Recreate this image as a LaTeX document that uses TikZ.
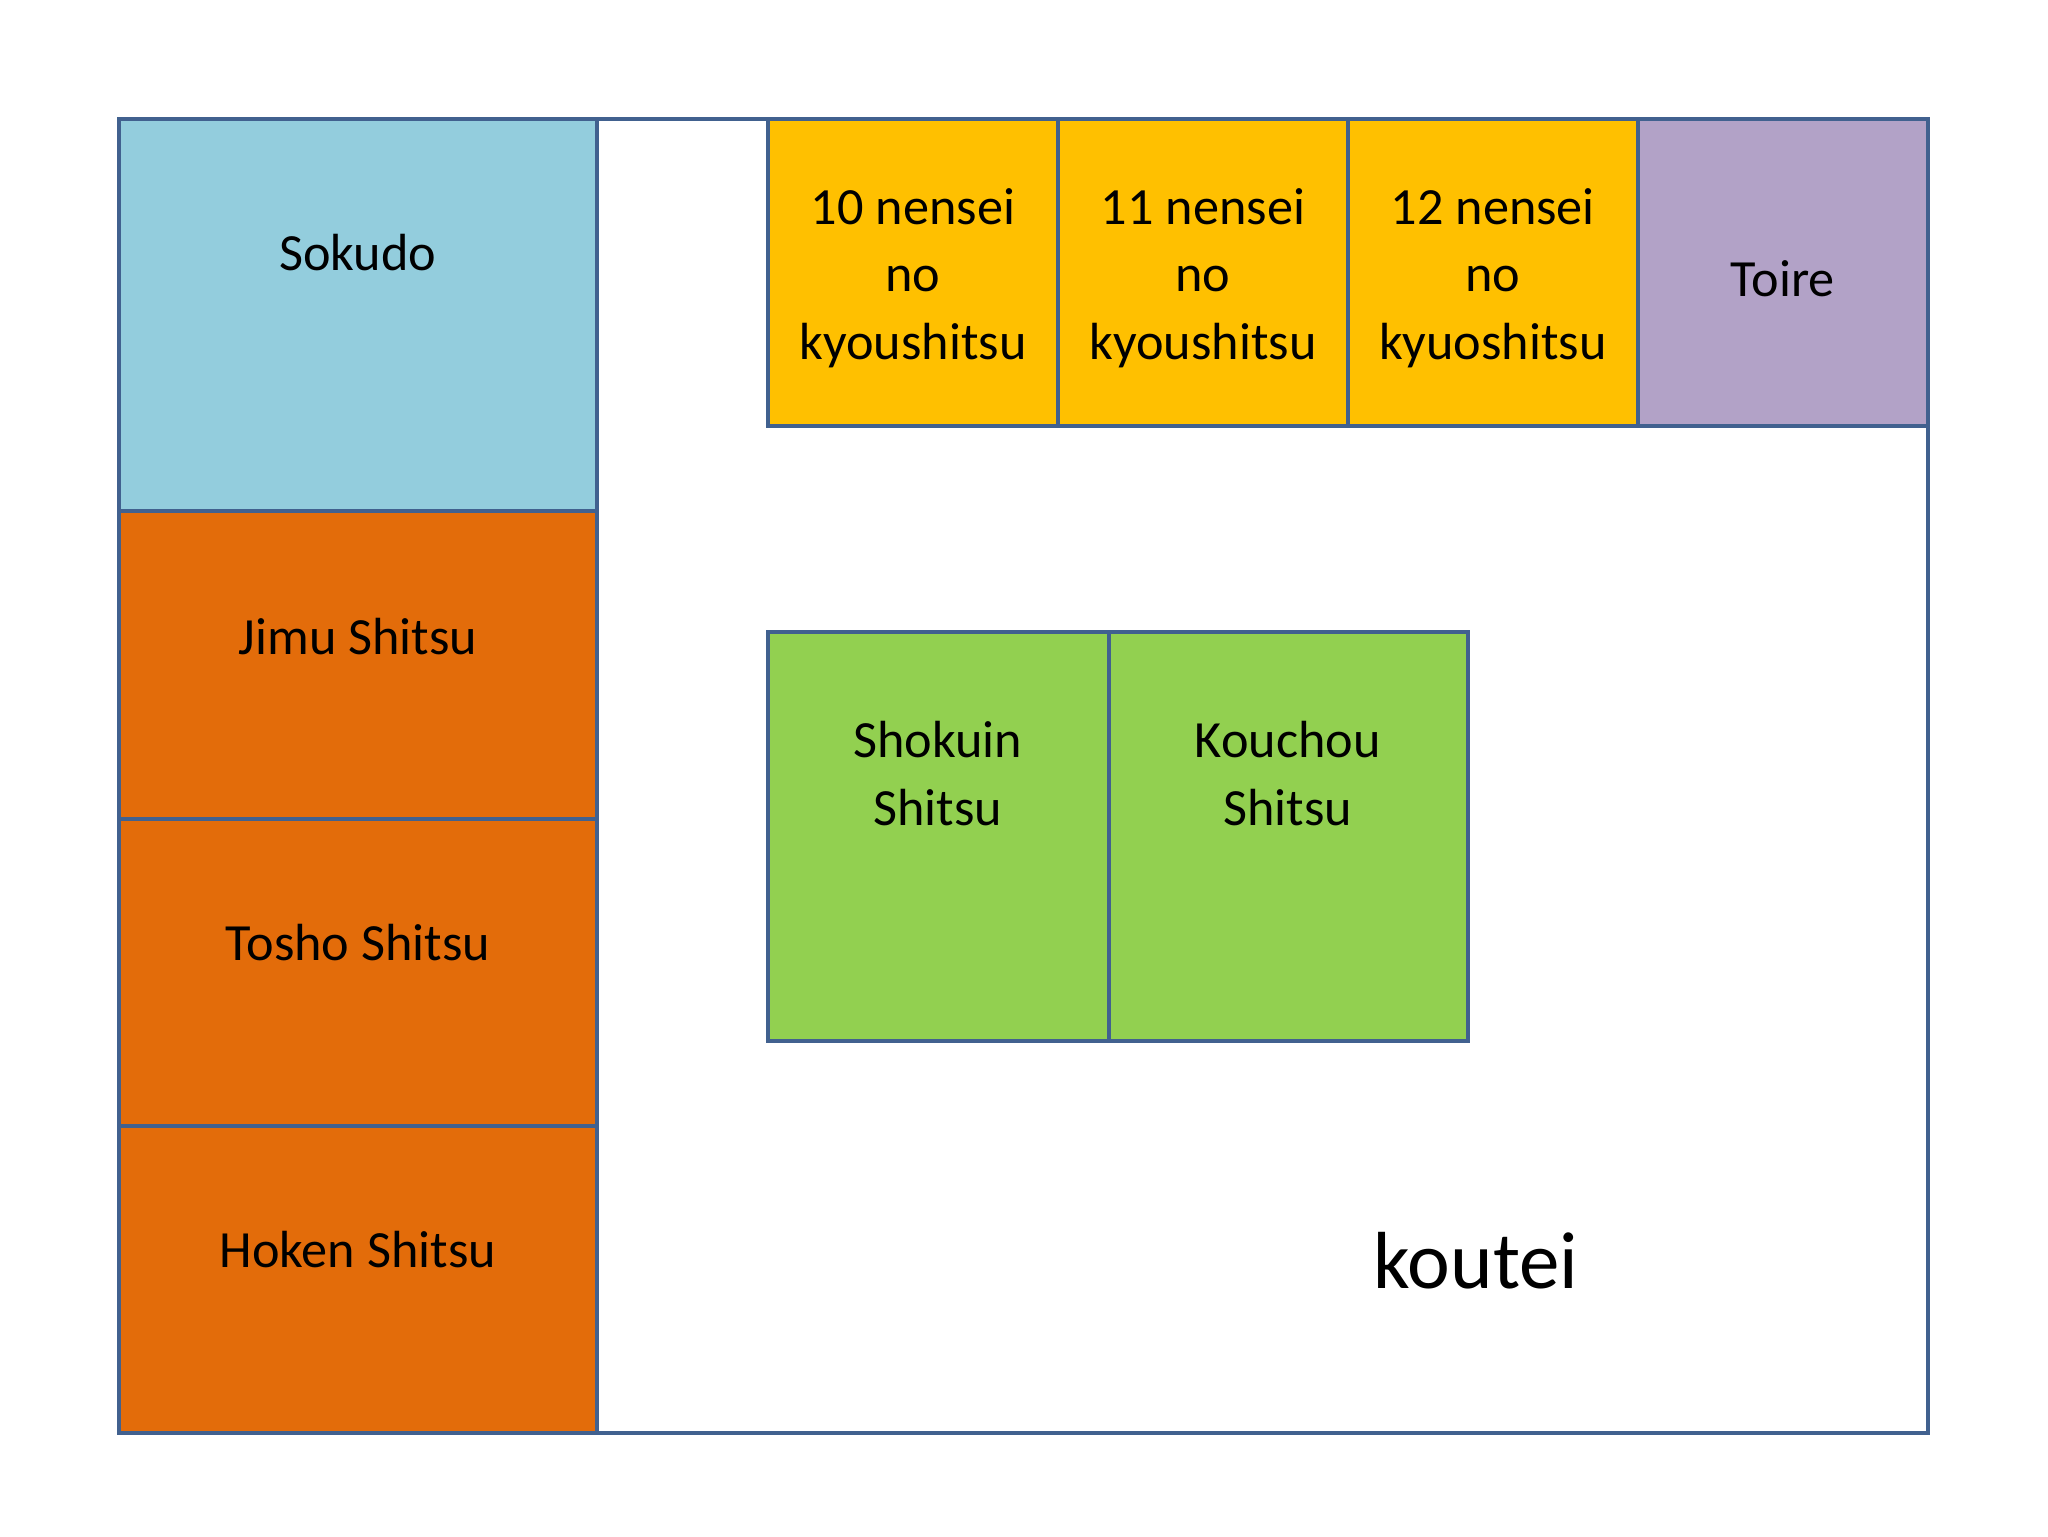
\documentclass[tikz,border=0pt]{standalone}
\usepackage{fontspec}
\setmainfont{Carlito}
\definecolor{ln}{HTML}{41618F}
\definecolor{cblue}{HTML}{93CDDD}
\definecolor{corange}{HTML}{E36C0A}
\definecolor{cyellow}{HTML}{FFC000}
\definecolor{cpurple}{HTML}{B2A2C7}
\definecolor{cgreen}{HTML}{92D050}
\begin{document}
\begin{tikzpicture}[x=1pt,y=-1pt,
  room/.style={draw=ln,line width=3pt},
  lbl/.style={font=\fontsize{40}{52}\selectfont,align=center,text=black}]
\useasboundingbox (0,0) rectangle (1568,1176);
\fill[white] (0,0) rectangle (1568,1176);
\draw[room,fill=white] (91,91) rectangle (1476,1097);
\draw[room,fill=cblue] (91,91) rectangle (457,391);
\draw[room,fill=corange] (91,391) rectangle (457,627);
\draw[room,fill=corange] (91,627) rectangle (457,862);
\draw[room,fill=corange] (91,862) rectangle (457,1097);
\draw[room,fill=cyellow] (588,91) rectangle (810,326);
\draw[room,fill=cyellow] (810,91) rectangle (1032,326);
\draw[room,fill=cyellow] (1032,91) rectangle (1254,326);
\draw[room,fill=cpurple] (1254,91) rectangle (1476,326);
\draw[room,fill=cgreen] (588,484) rectangle (849,797);
\draw[room,fill=cgreen] (849,484) rectangle (1124,797);
\node[lbl] (sok) at (274,193) {Sokudo};
\node[lbl] (jimu) at (274,487) {Jimu Shitsu};
\node[lbl] (tosho) at (274,722) {Tosho Shitsu};
\node[lbl] (hoken) at (274,957) {Hoken Shitsu};
\node[lbl] (c10) at (699,213) {10 nensei\\no\\kyoushitsu};
\node[lbl] (c11) at (921,213) {11 nensei\\no\\kyoushitsu};
\node[lbl] (c12) at (1143,213) {12 nensei\\no\\kyuoshitsu};
\node[lbl] (toire) at (1365,213) {Toire};
\node[lbl] (shok) at (718,592) {Shokuin\\Shitsu};
\node[lbl] (kou) at (986,592) {Kouchou\\Shitsu};
\node[font=\fontsize{62}{70}\selectfont] (kt) at (1130,965) {koutei};
\end{tikzpicture}
\end{document}
